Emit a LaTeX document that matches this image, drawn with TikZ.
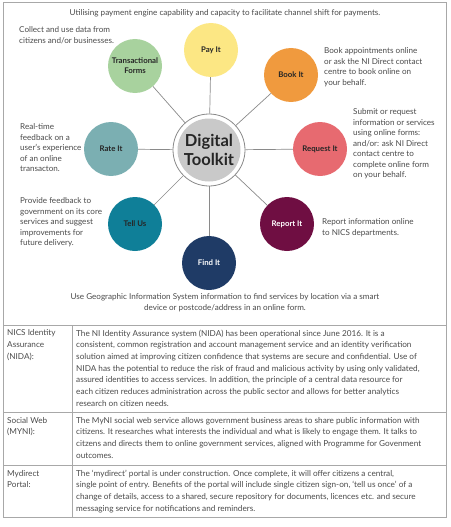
\documentclass[tikz,border=0pt]{standalone}
\usepackage{fontspec}
\setmainfont{Lato}
\definecolor{txtgray}{HTML}{4A4A4A}
\definecolor{bordergray}{HTML}{A8A8A8}
\definecolor{linegray}{HTML}{8A8A8A}
\definecolor{cpay}{HTML}{FCE784}
\definecolor{ctrans}{HTML}{A8D29E}
\definecolor{cbook}{HTML}{F09A3E}
\definecolor{creq}{HTML}{E76A70}
\definecolor{crate}{HTML}{7BAFB2}
\definecolor{ctell}{HTML}{0F7F98}
\definecolor{crep}{HTML}{6F0E42}
\definecolor{cfind}{HTML}{1F3B66}
\definecolor{ccenter}{HTML}{C9C9C9}
\begin{document}
\begin{tikzpicture}[x=1pt,y=-1pt,
  txt/.style={font=\fontsize{8.1}{10.5}\selectfont, text=txtgray, inner sep=0pt, align=left},
  ttxt/.style={font=\fontsize{8.2}{11.7}\selectfont, text=txtgray, inner sep=0pt, align=left},
  circ/.style={circle, minimum size=54pt, inner sep=0pt, font=\bfseries\fontsize{7.8}{10}\selectfont, align=center, text=black!85},
  conn/.style={draw=linegray, line width=0.7pt},
  frame/.style={draw=bordergray, line width=1pt}]
\useasboundingbox (0,0) rectangle (450,527);
% frame and table
\draw[frame] (3,3) rectangle (446,517);
\draw[frame, line width=0.8pt] (3,325) -- (446,325);
\draw[frame, line width=0.8pt] (3,412.6) -- (446,412.6);
\draw[frame, line width=0.8pt] (3,465.3) -- (446,465.3);
\draw[frame, line width=0.8pt] (72,325) -- (72,517);
% centre
\node[circle, minimum size=72pt, inner sep=0pt, draw=linegray, line width=0.8pt, fill=white] (dt) at (209,150) {};
\node[circle, minimum size=63pt, inner sep=0pt, fill=ccenter, font=\bfseries\fontsize{16.5}{19}\selectfont, align=center, text=black!85] (dtin) at (209,150) {Digital\\Toolkit};
% satellites
\node[circ, fill=cpay] (pay) at (211,50) {Pay It};
\node[circ, fill=ctrans] (trans) at (135,66) {Transactional\\Forms};
\node[circ, fill=cbook] (book) at (291,75) {Book It};
\node[circ, fill=creq] (req) at (320,149) {Request It};
\node[circ, fill=crate] (rate) at (111,149) {Rate It};
\node[circ, fill=ctell] (tell) at (135,224) {Tell Us};
\node[circ, fill=crep, text=white] (rep) at (287,224) {Report It};
\node[circ, fill=cfind, text=white] (find) at (209,263) {Find It};
\foreach \n in {pay,trans,book,req,rate,tell,rep,find} \draw[conn] (dt) -- (\n);
% descriptions
\node[txt, anchor=center] (tpay) at (225,13) {Utilising payment engine capability and capacity to facilitate channel shift for payments.};
\node[txt, anchor=north west] (ttrans) at (19,26.5) {Collect and use data from\\citizens and/or businesses.};
\node[txt, anchor=north west] (tbook) at (324,47.5) {Book appointments online\\or ask the NI Direct contact\\centre to book online on\\your behalf.};
\node[txt, anchor=north west] (treq) at (353,108.5) {Submit or request\\information or services\\using online forms:\\and/or: ask NI Direct\\contact centre to\\complete online form\\on your behalf.};
\node[txt, anchor=north west] (trate) at (20,123.5) {Real-time\\feedback on a\\user's experience\\of an online\\transacton.};
\node[txt, anchor=north west] (ttell) at (20,197.5) {Provide feedback to\\government on its core\\services and suggest\\improvements for\\future delivery.};
\node[txt, anchor=north west] (trep) at (322,218.5) {Report information online\\to NICS departments.};
\node[txt, align=center, anchor=north] (tfind) at (225,293.5) {Use Geographic Information System information to find services by location via a smart\\device or postcode/address in an online form.};
% table text
\node[ttxt, anchor=north west] (l1) at (7,329.5) {NICS Identity\\Assurance\\(NIDA):};
\node[ttxt, anchor=north west] (r1) at (76,329.5) {The NI Identity Assurance system (NIDA) has been operational since June 2016. It is a\\consistent, common registration and account management service and an identity verification\\solution aimed at improving citizen confidence that systems are secure and confidential. Use of\\NIDA has the potential to reduce the risk of fraud and malicious activity by using only validated,\\assured identities to access services. In addition, the principle of a central data resource for\\each citizen reduces administration across the public sector and allows for better analytics\\research on citizen needs.};
\node[ttxt, anchor=north west] (l2) at (7,417) {Social Web\\(MYNI):};
\node[ttxt, anchor=north west] (r2) at (76,417) {The MyNI social web service allows government business areas to share public information with\\citizens. It researches what interests the individual and what is likely to engage them. It talks to\\citzens and directs them to online government services, aligned with Programme for Govenment\\outcomes.};
\node[ttxt, anchor=north west] (l3) at (7,469.8) {Mydirect\\Portal:};
\node[ttxt, anchor=north west] (r3) at (76,469.8) {The ‘mydirect’ portal is under construction. Once complete, it will offer citizens a central,\\single point of entry. Benefits of the portal will include single citizen sign-on, ‘tell us once’ of a\\change of details, access to a shared, secure repository for documents, licences etc. and secure\\messaging service for notifications and reminders.};
\end{tikzpicture}
\end{document}
